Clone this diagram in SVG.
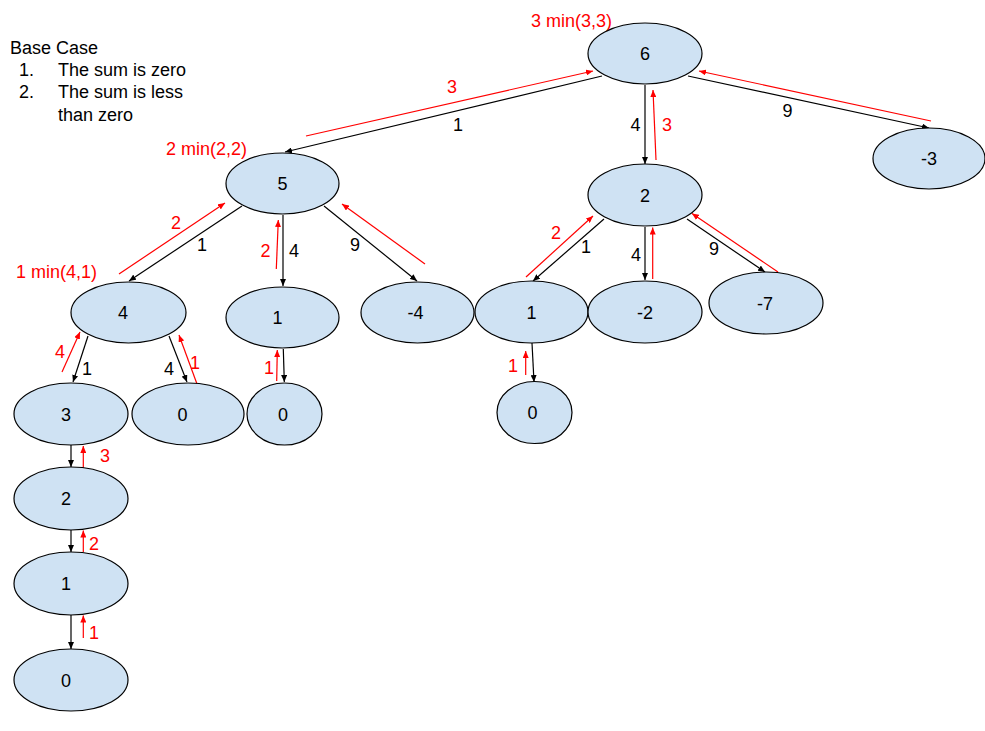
<svg xmlns="http://www.w3.org/2000/svg" width="985" height="731" viewBox="0 0 985 731">
<style>
text{font-family:"Liberation Sans",Arial,sans-serif;font-size:18px;fill:#000}
.n ellipse{fill:#cfe2f3;stroke:#000;stroke-width:1.2}
.n text{text-anchor:middle}
.b{stroke:#000;stroke-width:1.2;fill:none;marker-end:url(#ab)}
.r{stroke:#f00;stroke-width:1.2;fill:none;marker-end:url(#ar)}
.lr{fill:#f00;text-anchor:middle}
.lb{text-anchor:middle}
.rt{fill:#f00}
</style>
<defs>
<marker id="ab" markerUnits="userSpaceOnUse" markerWidth="8" markerHeight="6" refX="7" refY="3" orient="auto"><path d="M0,0L7,3L0,6z" fill="#000"/></marker>
<marker id="ar" markerUnits="userSpaceOnUse" markerWidth="8" markerHeight="6" refX="7" refY="3" orient="auto"><path d="M0,0L7,3L0,6z" fill="#f00"/></marker>
</defs>
<rect width="985" height="731" fill="#fff"/>
<g id="notes">
<text x="10" y="54">Base Case</text>
<text x="19" y="76">1.</text><text x="58" y="76">The sum is zero</text>
<text x="19" y="98">2.</text><text x="58" y="98">The sum is less</text>
<text x="58" y="121">than zero</text>
<text class="rt" x="531" y="27">3 min(3,3)</text>
<text class="rt" x="166" y="155">2 min(2,2)</text>
<text class="rt" x="16" y="278">1 min(4,1)</text>
</g>
<g id="connectors">
<line class="b" x1="602" y1="76" x2="285" y2="152"/>
<line class="r" x1="306" y1="136" x2="593" y2="71"/>
<line class="b" x1="645" y1="85" x2="645" y2="164"/>
<line class="r" x1="656" y1="160" x2="653" y2="90"/>
<line class="b" x1="688" y1="76" x2="929" y2="128"/>
<line class="r" x1="931" y1="121" x2="699" y2="71"/>
<line class="b" x1="242" y1="206" x2="129" y2="281"/>
<line class="r" x1="119" y1="274" x2="225" y2="203"/>
<line class="b" x1="283" y1="215" x2="283" y2="286"/>
<line class="r" x1="276.3" y1="269" x2="278.3" y2="220"/>
<line class="b" x1="324" y1="206" x2="417" y2="281"/>
<line class="r" x1="425" y1="264" x2="342" y2="204"/>
<line class="b" x1="88" y1="336" x2="73" y2="382"/>
<line class="r" x1="62" y1="372" x2="80" y2="332"/>
<line class="b" x1="169" y1="336" x2="187" y2="382"/>
<line class="r" x1="197" y1="384" x2="179" y2="335"/>
<line class="b" x1="283.3" y1="349" x2="284.3" y2="382"/>
<line class="r" x1="276.7" y1="381" x2="277.3" y2="350"/>
<line class="b" x1="604" y1="219" x2="533" y2="281"/>
<line class="r" x1="526" y1="277" x2="593" y2="216"/>
<line class="b" x1="645" y1="227" x2="645" y2="280"/>
<line class="r" x1="652.7" y1="279" x2="652.7" y2="227.5"/>
<line class="b" x1="687" y1="219" x2="765" y2="272"/>
<line class="r" x1="778" y1="272" x2="692" y2="213.5"/>
<line class="b" x1="532" y1="343" x2="534" y2="382"/>
<line class="r" x1="525.7" y1="375" x2="525.7" y2="351"/>
<line class="b" x1="71" y1="445" x2="71" y2="467"/>
<line class="r" x1="83.3" y1="468" x2="83.3" y2="446"/>
<line class="b" x1="71" y1="530" x2="71" y2="552"/>
<line class="r" x1="83.3" y1="552" x2="83.3" y2="530.5"/>
<line class="b" x1="71" y1="615" x2="71" y2="649"/>
<line class="r" x1="83.3" y1="638" x2="83.3" y2="615.5"/>
</g>
<g id="edge-labels">
<text class="lb" x="458" y="131">1</text>
<text class="lr" x="452" y="93">3</text>
<text class="lb" x="635.5" y="131">4</text>
<text class="lr" x="667" y="131">3</text>
<text class="lb" x="787.5" y="117">9</text>
<text class="lr" x="176" y="229">2</text>
<text class="lb" x="202" y="250.5">1</text>
<text class="lr" x="265.5" y="256.5">2</text>
<text class="lb" x="294" y="256.5">4</text>
<text class="lb" x="355" y="250.5">9</text>
<text class="lr" x="60" y="358">4</text>
<text class="lb" x="87" y="374.5">1</text>
<text class="lb" x="169" y="374.5">4</text>
<text class="lr" x="195" y="368.5">1</text>
<text class="lr" x="269" y="373.5">1</text>
<text class="lr" x="556" y="239">2</text>
<text class="lb" x="586" y="252.5">1</text>
<text class="lb" x="636" y="260.5">4</text>
<text class="lb" x="714" y="254.5">9</text>
<text class="lr" x="513" y="372">1</text>
<text class="lr" x="105" y="461.5">3</text>
<text class="lr" x="94" y="549.5">2</text>
<text class="lr" x="94" y="638.5">1</text>
</g>
<g id="n-root" class="n"><ellipse cx="645" cy="53.5" rx="57" ry="30.5"/><text x="645" y="60">6</text></g>
<g id="n-neg3" class="n"><ellipse cx="929" cy="158.5" rx="56" ry="30.5"/><text x="929" y="165">-3</text></g>
<g id="n-5" class="n"><ellipse cx="282.5" cy="183.5" rx="56.5" ry="30.5"/><text x="282.5" y="190">5</text></g>
<g id="n-2r" class="n"><ellipse cx="645" cy="195" rx="57" ry="31"/><text x="645" y="201.5">2</text></g>
<g id="n-4" class="n"><ellipse cx="128.5" cy="312.5" rx="57.5" ry="30.5"/><text x="123" y="319">4</text></g>
<g id="n-1m" class="n"><ellipse cx="282.5" cy="317.5" rx="56.5" ry="30.5"/><text x="277.5" y="324">1</text></g>
<g id="n-neg4" class="n"><ellipse cx="417.5" cy="312.5" rx="56.5" ry="30.5"/><text x="415.5" y="319">-4</text></g>
<g id="n-1r" class="n"><ellipse cx="531.5" cy="312" rx="56.5" ry="31"/><text x="531.5" y="318.5">1</text></g>
<g id="n-neg2" class="n"><ellipse cx="645" cy="312" rx="57" ry="31"/><text x="645" y="318.5">-2</text></g>
<g id="n-neg7" class="n"><ellipse cx="766" cy="303" rx="57" ry="31"/><text x="765" y="309.5">-7</text></g>
<g id="n-3" class="n"><ellipse cx="71" cy="414" rx="57" ry="31"/><text x="66" y="420.5">3</text></g>
<g id="n-0a" class="n"><ellipse cx="188" cy="414" rx="56" ry="31"/><text x="182.5" y="420.5">0</text></g>
<g id="n-0b" class="n"><ellipse cx="284.5" cy="414" rx="37.5" ry="31"/><text x="283" y="420.5">0</text></g>
<g id="n-0c" class="n"><ellipse cx="534.5" cy="412.5" rx="37.5" ry="31"/><text x="532.5" y="419">0</text></g>
<g id="n-2l" class="n"><ellipse cx="71" cy="498.5" rx="57" ry="31.5"/><text x="66" y="505">2</text></g>
<g id="n-1l" class="n"><ellipse cx="71" cy="583.5" rx="57" ry="31.5"/><text x="66" y="590">1</text></g>
<g id="n-0l" class="n"><ellipse cx="71" cy="680" rx="57" ry="31"/><text x="66" y="686.5">0</text></g>
</svg>
